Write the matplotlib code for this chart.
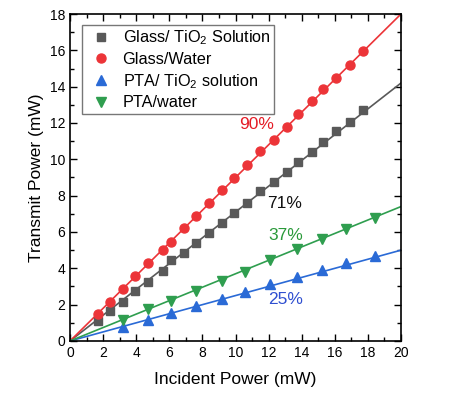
import numpy as np
import matplotlib
matplotlib.use("Agg")
import matplotlib.pyplot as plt
from matplotlib.ticker import MultipleLocator

plt.rcParams['font.family'] = ['Liberation Sans', 'DejaVu Sans']
plt.rcParams['mathtext.fontset'] = 'custom'
plt.rcParams['mathtext.rm'] = 'Liberation Sans'

# Data
x_glass = [1.7, 2.4, 3.2, 3.9, 4.7, 5.6, 6.1, 6.9, 7.6, 8.4, 9.2, 9.9,
           10.7, 11.5, 12.3, 13.1, 13.8, 14.6, 15.3, 16.1, 16.9, 17.7]
y_glass_water = [1.49, 2.16, 2.86, 3.58, 4.28, 5.0, 5.47, 6.2, 6.86, 7.58, 8.31, 8.99,
                 9.67, 10.47, 11.08, 11.8, 12.49, 13.2, 13.87, 14.5, 15.19, 15.98]
y_glass_tio2 = [1.1, 1.67, 2.16, 2.77, 3.26, 3.87, 4.46, 4.86, 5.38, 5.96, 6.48, 7.06,
                7.61, 8.27, 8.77, 9.28, 9.87, 10.38, 10.95, 11.56, 12.07, 12.71]
x_pta = [3.2, 4.7, 6.1, 7.6, 9.2, 10.6, 12.1, 13.7, 15.2, 16.7, 18.4]
y_pta_water = [1.16, 1.74, 2.2, 2.75, 3.32, 3.82, 4.46, 5.06, 5.6, 6.16, 6.75]
y_pta_tio2 = [0.79, 1.16, 1.56, 1.93, 2.31, 2.71, 3.14, 3.54, 3.91, 4.31, 4.68]
slopes = [0.71, 0.90, 0.25, 0.37]
labels = ["Glass/ TiO$_2$ Solution", "Glass/Water", "PTA/ TiO$_2$ solution", "PTA/water"]
pct_labels = ["71%", "90%", "25%", "37%"]

colors = ["#595959", "#ec3438", "#2a6ad6", "#2f9e4f"]
text_colors = ["#111111", "#e41c26", "#2f4fd0", "#2a9a3a"]
markers = ["s", "o", "^", "v"]
msizes = [5.5, 6.5, 6.5, 6.5]

fig = plt.figure(figsize=(4.74, 3.99), dpi=100)
ax = fig.add_axes([0.1477, 0.1454, 0.6983, 0.8195])

series = [(x_glass, y_glass_tio2), (x_glass, y_glass_water),
          (x_pta, y_pta_tio2), (x_pta, y_pta_water)]
xfit = np.array([0.0, 20.0])
for (xs, ys), s, c, m, ms, lab in zip(series, slopes, colors, markers, msizes, labels):
    ax.plot(xfit, s * xfit, color=c, lw=1.2, zorder=2)
    ax.plot(xs, ys, linestyle='none', marker=m, color=c, markersize=ms, label=lab, zorder=3)

# percentage annotations
pct_pos = [(11.9, 7.58), (10.2, 11.9), (12.0, 2.26), (12.0, 5.83)]
for (px, py), t, tc in zip(pct_pos, pct_labels, text_colors):
    ax.text(px, py, t, color=tc, fontsize=12.5, ha='left', va='center', zorder=6)

ax.set_xlim(0, 20)
ax.set_ylim(0, 18)
ax.xaxis.set_major_locator(MultipleLocator(2))
ax.xaxis.set_minor_locator(MultipleLocator(1))
ax.yaxis.set_major_locator(MultipleLocator(2))
ax.yaxis.set_minor_locator(MultipleLocator(1))
ax.tick_params(which='both', direction='in', top=True, right=True, labelsize=10, width=1.0)
ax.tick_params(which='major', length=5)
ax.tick_params(which='minor', length=3)
for sp in ax.spines.values():
    sp.set_linewidth(1.2)

ax.set_xlabel("Incident Power (mW)", fontsize=12.5, labelpad=9)
ax.set_ylabel("Transmit Power (mW)", fontsize=12.5, labelpad=4)

leg = ax.legend(loc='upper left', bbox_to_anchor=(0.036, 0.966), borderaxespad=0,
                fontsize=11.7, frameon=True, fancybox=False, edgecolor='#777777',
                framealpha=1, handletextpad=0.3, borderpad=0.2, labelspacing=0.3,
                handlelength=2.0)
leg.get_frame().set_linewidth(1.0)

fig.savefig("out.png", dpi=100)
